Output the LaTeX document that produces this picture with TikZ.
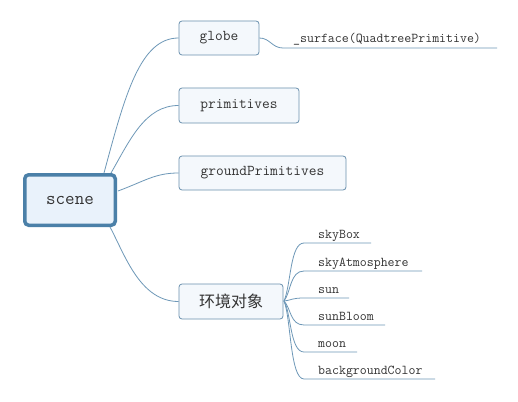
\documentclass[tikz,border=0pt]{standalone}
\usepackage{fontspec}
\newfontfamily\cjk{Noto Sans CJK SC}
\begin{document}
\begin{tikzpicture}[x=1pt,y=-1pt,
  lnk/.style={draw=linkc, line width=0.8pt},
  box/.style={draw=boxc, fill=boxf, line width=0.8pt, rounded corners=3pt,
    inner sep=0pt, text=txt, font=\fontsize{15}{15}\ttfamily},
  rootbox/.style={draw=rootc, fill=rootf, line width=3.5pt, rounded corners=4pt,
    inner sep=0pt, text=txt, font=\fontsize{18.5}{18.5}\ttfamily},
  leaf/.style={anchor=base west, inner sep=0pt, text=txt, font=\fontsize{13.5}{13.5}\ttfamily}]
\definecolor{linkc}{HTML}{6E98B8}
\definecolor{boxc}{HTML}{6A90AE}
\definecolor{boxf}{HTML}{F4F8FC}
\definecolor{rootc}{HTML}{4B80A8}
\definecolor{rootf}{HTML}{E9F2FB}
\definecolor{txt}{HTML}{333333}
\useasboundingbox[fill=white] (0,0) rectangle (518,401);

\node[rootbox, minimum width=90.5pt, minimum height=50.5pt] (scene) at (70,200) {scene};
\node[box, minimum width=80pt, minimum height=34pt] (globe) at (219,38) {globe};
\node[box, minimum width=120pt, minimum height=35pt] (prim) at (239,105.5) {primitives};
\node[box, minimum width=167pt, minimum height=34pt] (ground) at (262.5,173) {groundPrimitives};
\node[box, minimum width=104pt, minimum height=35pt, font=\fontsize{16}{16}\cjk] (env) at (231,301.5) {环境对象};

% scene connectors
\coordinate (s1) at (104,173);
\coordinate (s2) at (111,173);
\coordinate (s3) at (118,191);
\coordinate (s4) at (110,227);
\draw[lnk] (s1) .. controls (125,95) and (140,38) .. (globe.west);
\draw[lnk] (s2) .. controls (130,140) and (145,105.5) .. (prim.west);
\draw[lnk] (s3) .. controls (145,181) and (155,173) .. (ground.west);
\draw[lnk] (s4) .. controls (125,255) and (140,301.5) .. (env.west);

% globe child
\coordinate (u0a) at (283,48);
\coordinate (u0b) at (497,48);
\node[leaf] (surf) at (293,43) {\_surface(QuadtreePrimitive)};
\draw[lnk] (globe.east) .. controls (270,38) and (272,48) .. (u0a) -- (u0b);

% environment children
\node[leaf] (l1) at (318,238.5) {skyBox};
\node[leaf] (l2) at (318,266.5) {skyAtmosphere};
\node[leaf] (l3) at (318,293.5) {sun};
\node[leaf] (l4) at (318,320.5) {sunBloom};
\node[leaf] (l5) at (318,347.5) {moon};
\node[leaf] (l6) at (318,374.5) {backgroundColor};

\coordinate (a1) at (304,243); \coordinate (b1) at (371,243);
\coordinate (a2) at (304,271); \coordinate (b2) at (422,271);
\coordinate (a3) at (304,298); \coordinate (b3) at (349,298);
\coordinate (a4) at (304,325); \coordinate (b4) at (385,325);
\coordinate (a5) at (304,352); \coordinate (b5) at (357,352);
\coordinate (a6) at (304,379); \coordinate (b6) at (435,379);
\coordinate (e0) at (284,301);

\draw[lnk] (e0) .. controls (291,285) and (290,243) .. (a1) -- (b1);
\draw[lnk] (e0) .. controls (291,292) and (290,271) .. (a2) -- (b2);
\draw[lnk] (e0) .. controls (292,300) and (292,298) .. (a3) -- (b3);
\draw[lnk] (e0) .. controls (291,308) and (290,325) .. (a4) -- (b4);
\draw[lnk] (e0) .. controls (291,312) and (290,352) .. (a5) -- (b5);
\draw[lnk] (e0) .. controls (291,318) and (290,379) .. (a6) -- (b6);
\end{tikzpicture}
\end{document}
